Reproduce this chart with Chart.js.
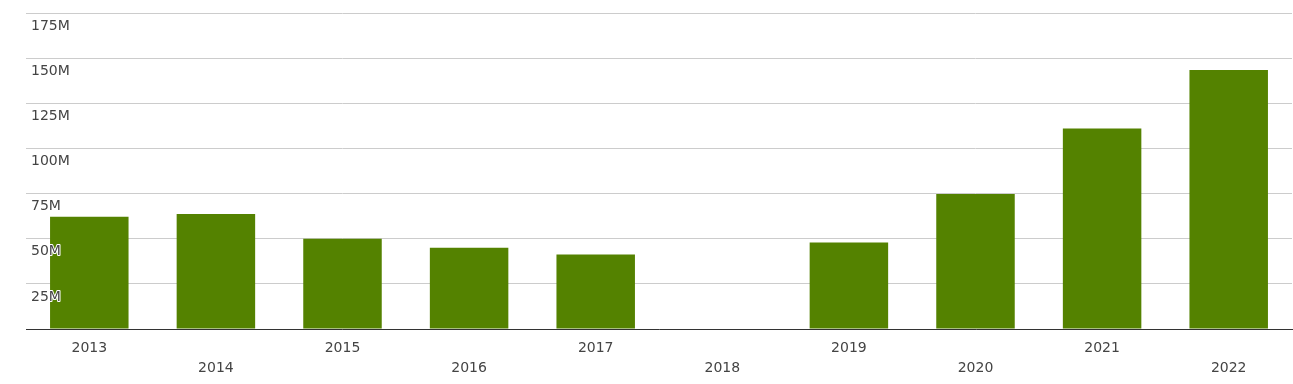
<!DOCTYPE html>
<html>
<head>
<meta charset="utf-8">
<script src="https://cdn.jsdelivr.net/npm/chart.js@4/dist/chart.umd.min.js"></script>
<style>
    html, body { margin: 0; padding: 0; background: #fff; }
    #wrap { width: 1293px; height: 384px; }
</style>
</head>
<body>
<div id="wrap"><canvas id="chartCanvas"></canvas></div>
<script>
// values
const years = ['2013', '2014', '2015', '2016', '2017', '2018', '2019', '2020', '2021', '2022']
const amounts = [62200000, 63800000, 50100000, 45100000, 41300000, null, 47900000, 74800000, 111200000, 143600000]
const yTicks = [0, 25000000, 50000000, 75000000, 100000000, 125000000, 150000000, 175000000]

const barColor = '#548200'

// odd years go on a second row
const xLabels = years.map((y, i) => i % 2 === 0 ? y : ['', y])

// round joins for the white halo round the y labels
const roundJoins = {
    id: 'roundJoins',
    beforeDraw: chart => { chart.ctx.lineJoin = 'round' }
}

const config = {
    type: 'bar',
    data: {
        labels: xLabels,
        datasets: [{
            data: amounts,
            backgroundColor: barColor,
            categoryPercentage: 1,
            barPercentage: 0.62
        }]
    },
    options: {
        responsive: true,
        maintainAspectRatio: false,
        animation: false,
        layout: {
            padding: { left: 16, right: 1, top: 10, bottom: 5 }
        },
        plugins: {
            legend: { display: false },
            tooltip: { enabled: false }
        },
        scales: {
            x: {
                grid: { display: false },
                border: { color: '#333', width: 1 },
                ticks: {
                    color: '#444',
                    font: { family: 'DejaVu Sans', size: 14, lineHeight: '20px' },
                    padding: 1,
                    maxRotation: 0,
                    autoSkip: false
                }
            },
            y: {
                min: 0,
                max: yTicks[yTicks.length - 1],
                afterBuildTicks: axis => {
                    axis.ticks = yTicks.map(v => ({ value: v }))
                },
                grid: { color: '#cccccc', drawTicks: false },
                border: { display: false },
                ticks: {
                    mirror: true,
                    padding: 5,
                    labelOffset: 13,
                    z: 1,
                    color: '#444',
                    font: { family: 'DejaVu Sans', size: 14 },
                    textStrokeColor: '#fff',
                    textStrokeWidth: 2,
                    callback: v => v === 0 ? '' : (v / 1000000) + 'M'
                }
            }
        }
    },
    plugins: [roundJoins]
}

const myChart = new Chart(document.getElementById('chartCanvas'), config)
</script>
</body>
</html>
